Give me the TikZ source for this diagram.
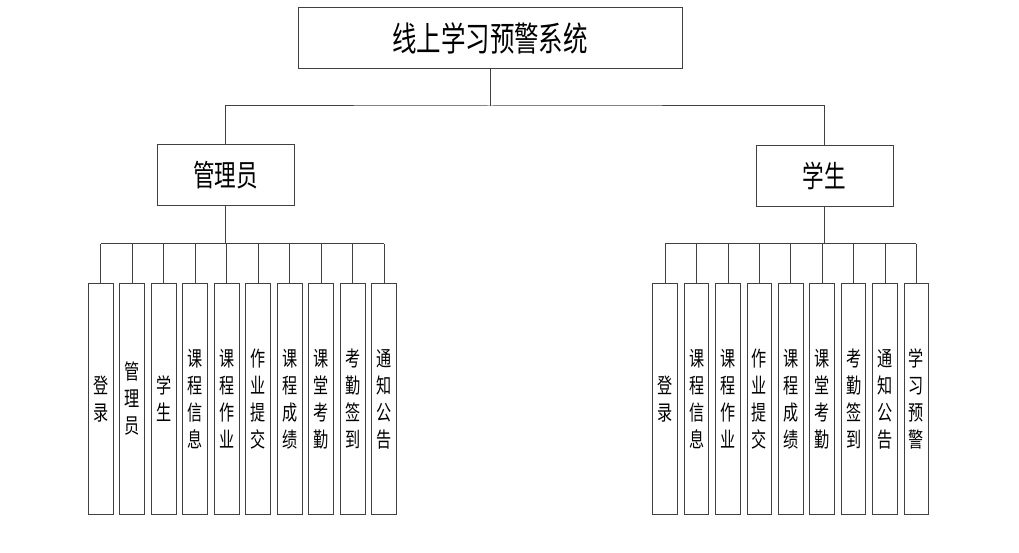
\documentclass[tikz,border=0pt]{standalone}
\usepackage{fontspec}
\newfontfamily\cjk[FakeStretch=0.72]{Noto Sans CJK SC}
\begin{document}
\begin{tikzpicture}[x=1pt, y=-1pt,
  box/.style={draw=black!75, line width=1pt, inner sep=0pt, font=\cjk},
  headbox/.style={box, minimum width=137pt, minimum height=61pt,
    font=\cjk\fontsize{30}{36}\selectfont},
  leafbox/.style={box, minimum width=24.7pt, minimum height=231.5pt,
    align=center, font=\cjk\fontsize{21}{27}\selectfont},
  link/.style={draw=black!75, line width=1pt}]
  \useasboundingbox (0,0) rectangle (1019,553);
  % Root
  \node[box, minimum width=384pt, minimum height=61pt,
    font=\cjk\fontsize{34}{40}\selectfont] (sys) at (490,38.5) {线上学习预警系统};
  % Roles
  \node[headbox] (admin) at (225.5,175.5) {管理员};
  \node[headbox] (stu) at (824.5,176) {学生};
  \coordinate (rootbus) at (490,106);
  \draw[link] (sys.south) -- (rootbus);
  \draw[link] (admin.north) |- (rootbus) -| (stu.north);
  % Admin functions
  \foreach \t [count=\i from 0] in {{登\\录},{管\\理\\员},{学\\生},{课\\程\\信\\息},
      {课\\程\\作\\业},{作\\业\\提\\交},{课\\程\\成\\绩},{课\\堂\\考\\勤},
      {考\\勤\\签\\到},{通\\知\\公\\告}}
    \node[leafbox] (a\i) at (100.7+31.5*\i,399) {\t};
  \coordinate (abus) at (225.5,244);
  \draw[link] (admin.south) -- (abus);
  \draw[link] (a0.north |- abus) -- (a9.north |- abus);
  \foreach \i in {0,...,9}
    \draw[link] (a\i.north) -- (a\i.north |- abus);
  % Student functions
  \foreach \t [count=\i from 0] in {{登\\录},{课\\程\\信\\息},{课\\程\\作\\业},
      {作\\业\\提\\交},{课\\程\\成\\绩},{课\\堂\\考\\勤},{考\\勤\\签\\到},
      {通\\知\\公\\告},{学\\习\\预\\警}}
    \node[leafbox] (s\i) at (665.2+31.4*\i,399) {\t};
  \coordinate (sbus) at (824.5,244);
  \draw[link] (stu.south) -- (sbus);
  \draw[link] (s0.north |- sbus) -- (s8.north |- sbus);
  \foreach \i in {0,...,8}
    \draw[link] (s\i.north) -- (s\i.north |- sbus);
\end{tikzpicture}
\end{document}
